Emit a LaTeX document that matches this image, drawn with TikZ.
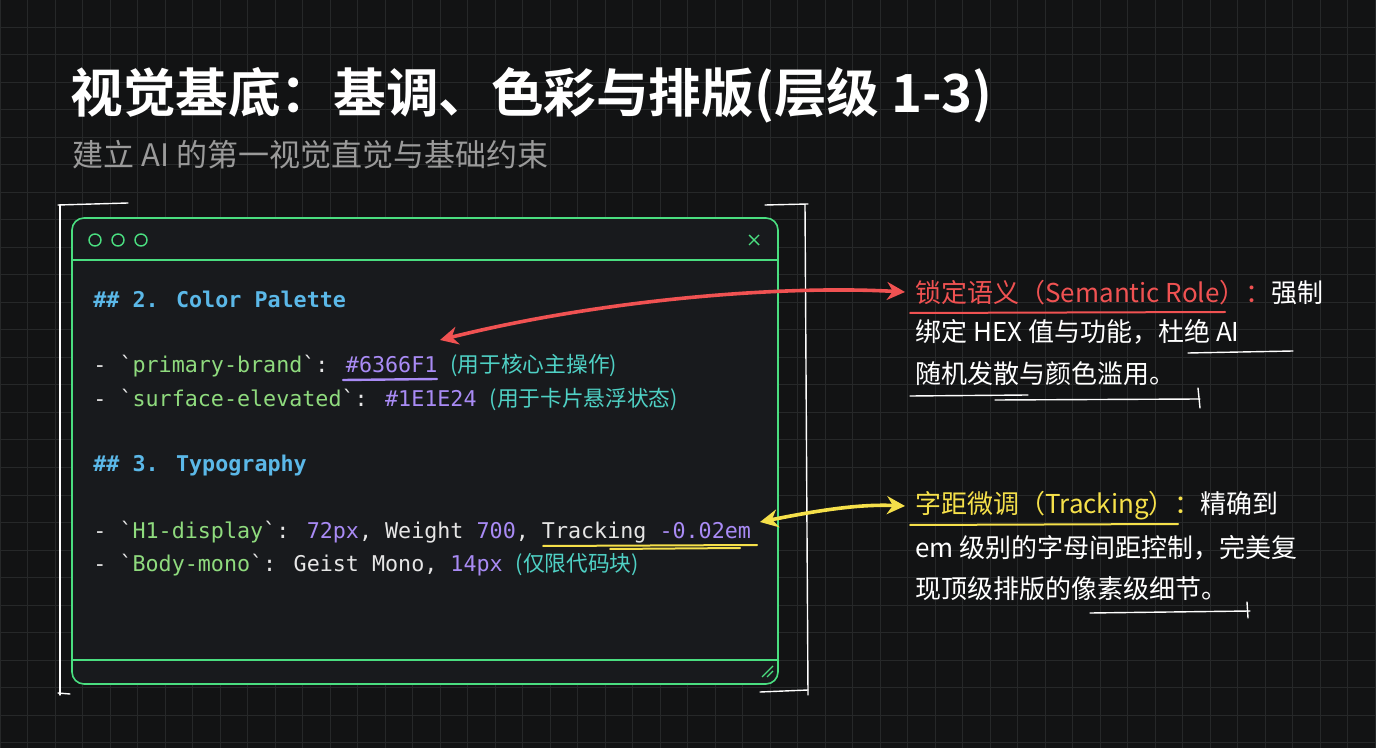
\documentclass[tikz,border=0pt]{standalone}
\usetikzlibrary{arrows.meta}
\usepackage{fontspec}
\setmainfont{Noto Sans CJK SC}
\newfontfamily\cjk{Noto Sans CJK SC}
\newfontfamily\cjkb{Noto Sans CJK SC Bold}
\newfontfamily\mono{DejaVu Sans Mono}
\newfontfamily\monob{DejaVu Sans Mono Bold}
\definecolor{bg}{HTML}{121314}
\definecolor{gridc}{HTML}{262829}
\definecolor{win}{HTML}{181A1D}
\definecolor{wgreen}{HTML}{4ADE80}
\definecolor{hblue}{HTML}{5BB8E8}
\definecolor{cgreen}{HTML}{8FDB7E}
\definecolor{cpurp}{HTML}{A98BF5}
\definecolor{ccyan}{HTML}{4FD1C5}
\definecolor{cred}{HTML}{F05252}
\definecolor{cyel}{HTML}{F5E04A}
\definecolor{cwhite}{HTML}{E6E6E6}
\definecolor{sub}{HTML}{9A9A9A}
\newcommand{\zh}[1]{{\cjk #1}}
\tikzset{
 code/.style={anchor=west,inner sep=0pt,font=\mono\fontsize{10.85}{12}\selectfont,text=cwhite},
 codeh/.style={anchor=west,inner sep=0pt,font=\monob\fontsize{10.85}{12}\selectfont,text=hblue},
 note/.style={anchor=west,inner sep=0pt,font=\cjk\fontsize{13}{15}\selectfont,text=white},
 sketch/.style={draw=white,line width=0.7pt,line cap=round},
 arr/.style={line width=1.8pt,line cap=round,{Stealth[length=9pt,width=9pt]}-{Stealth[length=9pt,width=9pt]}},
}
\begin{document}
\begin{tikzpicture}[x=0.5pt,y=-0.5pt]
\fill[bg] (0,0) rectangle (1376,748);
\useasboundingbox (0,0) rectangle (1376,748);
\foreach \i in {0,...,50} {\draw[gridc,line width=0.5pt] (\i*27.5,0) -- (\i*27.5,748);}
\foreach \j in {0,...,28} {\draw[gridc,line width=0.5pt] (0,\j*27.5) -- (1376,\j*27.5);}
% title
\node[anchor=west,inner sep=0pt,text=white,font=\cjkb\fontsize{26.3}{30}\selectfont] (title) at (70,95) {视觉基底：基调、色彩与排版(层级 1-3)};
\node[anchor=west,inner sep=0pt,text=sub,font=\cjk\fontsize{15.5}{18}\selectfont] (subtitle) at (72,155) {建立 AI 的第一视觉直觉与基础约束};
% sketch brackets
\draw[sketch] (60,205) -- (60,695); \draw[sketch] (58,205) -- (128,203);
\draw[sketch] (58,693) -- (70,694);
\draw[sketch] (805,205) -- (808,695); \draw[sketch] (765,205) -- (808,204);
\draw[sketch] (760,692) -- (808,690);
% window
\node[draw=wgreen,fill=win,rounded corners=6pt,line width=0.8pt,minimum width=353pt,minimum height=233pt,inner sep=0pt] (window) at (425,451) {};
\draw[wgreen,line width=0.8pt] (72,260) -- (778,260);
\draw[wgreen,line width=0.8pt] (72,660) -- (778,660);
\foreach \cx in {95,118,141} {\draw[wgreen,line width=0.7pt] (\cx,240) circle (6);}
\draw[wgreen,line width=0.7pt] (749,235) -- (759,245) (759,235) -- (749,245);
\draw[wgreen,line width=0.6pt] (762,677) -- (773,666) (767,677) -- (773,671);
% code
\node[codeh] (h2) at (93,299) {\#\# 2. Color Palette};
\node[code] (l1) at (93,366) {- `\textcolor{cgreen}{primary-brand}`: \textcolor{cpurp}{\#6366F1} \textcolor{ccyan}{\zh{(用于核心主操作)}}};
\node[code] (l2) at (93,399) {- `\textcolor{cgreen}{surface-elevated}`: \textcolor{cpurp}{\#1E1E24} \textcolor{ccyan}{\zh{(用于卡片悬浮状态)}}};
\node[codeh] (h3) at (93,466) {\#\# 3. Typography};
\node[code] (l3) at (93,532) {- `\textcolor{cgreen}{H1-display}`: \textcolor{cpurp}{72px}, Weight \textcolor{cpurp}{700}, Tracking \textcolor{cpurp}{-0.02em}};
\node[code] (l4) at (93,565) {- `\textcolor{cgreen}{Body-mono}`: Geist Mono, \textcolor{cpurp}{14px} \textcolor{ccyan}{\zh{(仅限代码块)}}};
\draw[cpurp,line width=1.2pt,line cap=round] (343,380) -- (437,379);
\draw[cyel,line width=1pt,line cap=round] (543,546) -- (757,545) (610,549) -- (740,548);
% notes
\node[note] (n1a) at (915,293) {\textcolor{cred}{锁定语义（Semantic Role）：}强制};
\node[note] (n1b) at (915,332) {绑定 HEX 值与功能，杜绝 AI};
\node[note] (n1c) at (915,374) {随机发散与颜色滥用。};
\node[note] (n2a) at (915,506) {\textcolor{cyel}{字距微调（Tracking）：}精确到};
\node[note] (n2b) at (915,548) {em 级别的字母间距控制，完美复};
\node[note] (n2c) at (915,589) {现顶级排版的像素级细节。};
\draw[cred,line width=1pt,line cap=round] (910,313) -- (1225,312);
\draw[sketch] (1188,353) -- (1293,351);
\draw[sketch] (910,396) -- (1028,395) (995,400) -- (1200,399) (1198,388) -- (1200,408);
\draw[cyel,line width=1pt,line cap=round] (910,525) -- (1178,524);
\draw[sketch] (1090,613) -- (1250,611) (1247,602) -- (1248,618);
% arrows
\coordinate (redstart) at (440,340);
\coordinate (redend) at (905,292);
\coordinate (yelstart) at (760,522);
\coordinate (yelend) at (905,506);
\draw[cred,arr] (redstart) .. controls (600,300) and (780,285) .. (redend);
\draw[cyel,arr] (yelstart) .. controls (820,510) and (860,504) .. (yelend);
\end{tikzpicture}
\end{document}
